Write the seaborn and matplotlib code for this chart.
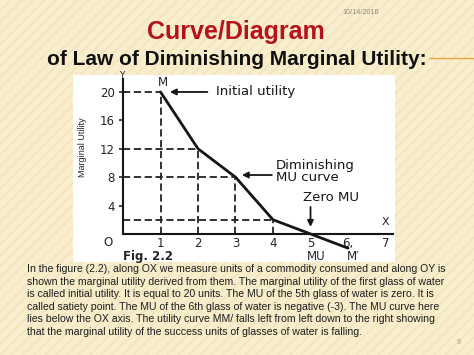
import numpy as np
import pandas as pd
import matplotlib
matplotlib.use('Agg')
import matplotlib.pyplot as plt
import seaborn as sns
from matplotlib.patches import Rectangle
from matplotlib.lines import Line2D

# data
units = [1, 2, 3, 4, 5, 6]
mu = [20, 12, 8, 2, 0, -2]
y_ticks = [4, 8, 12, 16, 20]
x_ticks = [1, 2, 3, 4, 5, 6, 7]
x_labels = ['1', '2', '3', '4', '5', '6,', '7']

title = 'Curve/Diagram'
subtitle = 'of Law of Diminishing Marginal Utility:'
body = [
    "In the figure (2.2), along OX we measure units of a commodity consumed and along OY is",
    "shown the marginal utility derived from them. The marginal utility of the first glass of water",
    "is called initial utility. It is equal to 20 units. The MU of the 5th glass of water is zero. It is",
    "called satiety point. The MU of the 6th glass of water is negative (-3). The MU curve here",
    "lies below the OX axis. The utility curve MM/ falls left from left down to the right showing",
    "that the marginal utility of the success units of glasses of water is falling.",
]

df = pd.DataFrame({'units': units, 'mu': mu})

sns.set_style('white')
plt.rcParams['font.family'] = ['Liberation Sans', 'DejaVu Sans']

fig = plt.figure(figsize=(4.74, 3.55), dpi=100)
fig.patch.set_facecolor('#f8edcc')

# slide background with faint stripes
fig.add_artist(Rectangle((0, 0), 1, 1, transform=fig.transFigure, facecolor='#f8edcc',
                         edgecolor='#f2e3b8', hatch='///', lw=0, zorder=-10))
# white picture box
fig.add_artist(Rectangle((0.154, 0.262), 0.679, 0.527, transform=fig.transFigure,
                         facecolor='white', lw=0, zorder=-5))
fig.add_artist(Line2D([0.905, 1.0], [0.836, 0.836], transform=fig.transFigure,
                      color='#e9a640', lw=1))

ax = fig.add_axes([0.2595, 0.281, 0.5696, 0.508])
ax.patch.set_alpha(0)

sns.lineplot(data=df, x='units', y='mu', color='#151515', lw=2, ax=ax)

# dashed guide lines
dash = dict(color='#222222', lw=1.3, linestyle=(0, (4, 2)))
ax.hlines(mu[:4], 0, units[:4], **dash)
ax.vlines(units[:4], 0, mu[:4], **dash)

ax.set_xlim(0, 7.2)
ax.set_ylim(-3, 22.4)
for s in ['top', 'right']:
    ax.spines[s].set_visible(False)
ax.spines['left'].set_position(('data', 0))
ax.spines['bottom'].set_position(('data', 0))
ax.spines['left'].set_bounds(0, 21.8)
ax.spines['bottom'].set_bounds(0, 7.2)
for s in ['left', 'bottom']:
    ax.spines[s].set_color('#151515')
    ax.spines[s].set_linewidth(1.5)

ax.set_yticks(y_ticks)
ax.set_xticks(x_ticks)
ax.set_xticklabels(x_labels)
ax.set_xticks([6, 7], minor=True)
ax.tick_params(axis='y', direction='out', length=3, width=1.2, pad=3,
               labelsize=8.5, labelfontfamily='DejaVu Sans', left=True)
ax.tick_params(axis='x', which='major', length=0, pad=2.5, labelsize=8.5,
               labelfontfamily='DejaVu Sans')
ax.tick_params(axis='x', which='minor', direction='inout', length=8, width=1.2, bottom=True)
ax.set_xlabel('')
ax.set_ylabel('Marginal Utility', fontsize=6.5)
ax.yaxis.set_label_coords(-0.133, 0.60)

lab = dict(fontsize=9.5, family='DejaVu Sans', color='#151515')
arrow = dict(arrowstyle='-|>', color='#151515', lw=1.3, mutation_scale=9, shrinkA=0, shrinkB=0)

ax.text(1.07, 21.4, 'M', ha='center', va='center', fontsize=8.5, family='DejaVu Sans')
ax.text(-0.03, 22.35, 'Y', ha='center', va='center', fontsize=6.5, family='DejaVu Sans')
ax.text(-0.4, -1.2, 'O', ha='center', va='center', fontsize=8.5, family='DejaVu Sans')
ax.text(6.99, 1.7, 'X', ha='center', va='center', fontsize=8, family='DejaVu Sans')

ax.annotate('', xy=(units[0] + 0.25, mu[0]), xytext=(2.25, mu[0]), arrowprops=arrow)
ax.text(2.48, mu[0], 'Initial utility', ha='left', va='center', **lab)

ax.annotate('', xy=(units[2] + 0.17, mu[2] + 0.3), xytext=(3.97, mu[2] + 0.3), arrowprops=arrow)
ax.text(4.07, 8.8, 'Diminishing\nMU curve', ha='left', va='center', linespacing=0.95, **lab)

ax.annotate('', xy=(units[4], mu[4] + 1.0), xytext=(units[4], 3.8), arrowprops=arrow)
ax.text(4.8, 5.1, 'Zero MU', ha='left', va='center', **lab)

ax.text(0.67, -3.15, 'Fig. 2.2', ha='center', va='center', fontsize=8.5,
        family='DejaVu Sans', weight='bold')
ax.text(5.15, -3.15, 'MU', ha='center', va='center', fontsize=8.5, family='DejaVu Sans')
ax.text(6.15, -3.15, "M\u2032", ha='center', va='center', fontsize=8.5, family='DejaVu Sans')

# slide texts
fig.text(0.498, 0.89, title, ha='center', va='baseline', fontsize=18,
         weight='bold', color='#b5121b')
fig.text(0.5, 0.817, subtitle, ha='center', va='baseline', fontsize=15,
         weight='bold', color='#111111')
fig.text(0.76, 0.966, '10/14/2016', ha='center', va='center', fontsize=5.2, color='#8c8a7c')
fig.text(0.968, 0.034, '9', ha='center', va='center', fontsize=5, color='#a09c88')
fig.text(0.057, 0.256, '\n'.join(body), ha='left', va='top', fontsize=7.6,
         linespacing=1.32, color='#1e1e1e')

fig.savefig('out.png', dpi=100)
